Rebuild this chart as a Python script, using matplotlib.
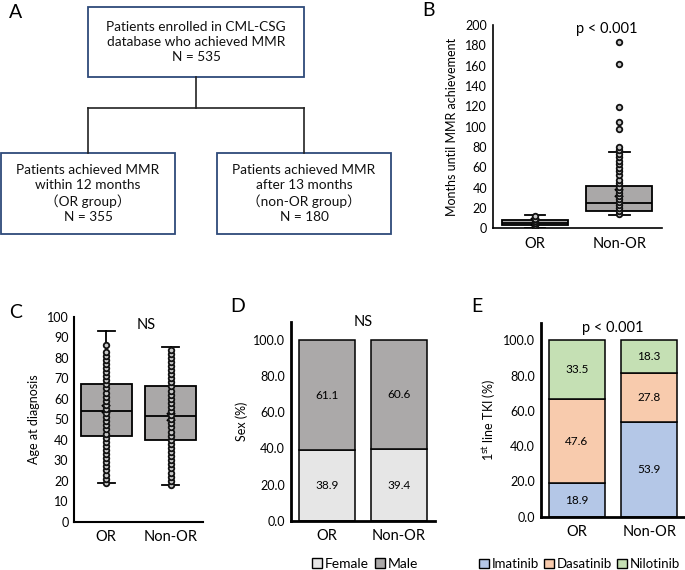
import matplotlib
matplotlib.use("Agg")
import matplotlib.pyplot as plt
from matplotlib.patches import Rectangle, Patch

plt.rcParams['font.family'] = ['Lato', 'Noto Sans CJK JP', 'DejaVu Sans']

# ---- data ----
groups = ['OR', 'Non-OR']

# B: months until MMR achievement (box stats)
b_stats = [
    dict(q1=2.9, med=5.5, q3=8.2, whislo=0.0, whishi=13.0, mean=6.0),
    dict(q1=17.0, med=25.0, q3=41.6, whislo=13.4, whishi=74.8, mean=34.5),
]
b_points_or = [1, 3, 5, 7, 9, 12]
b_points_nonor = [14, 17, 20, 23, 26, 29, 32, 35, 38, 41, 45, 48, 52, 56,
                  59, 63, 66, 70, 73, 77, 80, 98, 105, 119, 162, 183]

# C: age at diagnosis
c_stats = [
    dict(q1=42.0, med=54.0, q3=67.2, whislo=19.0, whishi=93.0, mean=55.0),
    dict(q1=40.0, med=51.6, q3=66.0, whislo=18.0, whishi=85.0, mean=51.0),
]
c_points_or = [19, 21, 23, 25, 27, 29, 31, 33, 35, 37, 39, 41, 43, 45, 47,
               49, 51, 53, 55, 57, 59, 61, 63, 65, 67, 69, 71, 73, 75, 77,
               79, 81, 83, 86]
c_points_nonor = [18, 20, 22, 24, 26, 28, 30, 32, 34, 36, 38, 40, 42, 44, 46,
                  48, 50, 52, 54, 56, 58, 60, 62, 64, 66, 68, 70, 72, 74, 76,
                  78, 80, 82, 84]

# D: sex (%)
female = [38.9, 39.4]
male = [61.1, 60.6]

# E: 1st line TKI (%)
imatinib = [18.9, 53.9]
dasatinib = [47.6, 27.8]
nilotinib = [33.5, 18.3]

BOX_GRAY = '#AAA8A8'

fig = plt.figure(figsize=(6.85, 5.70), dpi=100)

# ---- panel A: flow chart drawn in pixel coords ----
axA = fig.add_axes([0, 0, 1, 1])
axA.set_xlim(0, 685)
axA.set_ylim(570, 0)
axA.axis('off')
axA.set_zorder(-1)

box_edge = '#2E4A7A'
boxes = [
    (88, 7, 216, 70, 'Patients enrolled in CML-CSG\ndatabase who achieved MMR\nN = 535'),
    (1, 153, 174, 81, 'Patients achieved MMR\nwithin 12 months\n（OR group）\nN = 355'),
    (217, 153, 174, 81, 'Patients achieved MMR\nafter 13 months\n（non-OR group）\nN = 180'),
]
for x, y, w, h, txt in boxes:
    axA.add_patch(Rectangle((x, y), w, h, fill=False, ec=box_edge, lw=1.3))
    axA.text(x + w / 2, y + h / 2, txt, ha='center', va='center',
             fontsize=9.8, linespacing=1.3, color='#111111')
axA.plot([196, 196], [77, 108], color='#222222', lw=1.2)
axA.plot([88, 304], [108, 108], color='#222222', lw=1.2)
axA.plot([88, 88], [108, 153], color='#222222', lw=1.2)
axA.plot([304, 304], [108, 153], color='#222222', lw=1.2)

for lab, x, y in [('A', 9, 13), ('B', 422, 10), ('C', 9, 313), ('D', 230, 306), ('E', 471, 306)]:
    axA.text(x, y, lab, fontsize=14, ha='left', va='center')


def style_axes(ax, lw):
    for s in ['top', 'right']:
        ax.spines[s].set_visible(False)
    for s in ['left', 'bottom']:
        ax.spines[s].set_linewidth(lw)
    ax.tick_params(axis='both', length=0, labelsize=9, pad=4)
    ax.tick_params(axis='x', labelsize=10.5, pad=6)


def draw_box(ax, stats, pts, width, capw):
    ax.bxp(stats, positions=[1, 2], widths=width, showmeans=True,
           patch_artist=True, showfliers=False, capwidths=capw,
           boxprops=dict(facecolor=BOX_GRAY, edgecolor='black', lw=1.3),
           medianprops=dict(color='black', lw=1.3),
           whiskerprops=dict(color='black', lw=1.3),
           capprops=dict(color='black', lw=1.3),
           meanprops=dict(marker='x', markeredgecolor='black', markersize=6, mew=1.5))
    for pos, vals in zip([1, 2], pts):
        ax.plot([pos] * len(vals), vals, 'o', mfc='#C8C8C8', mec='#111111',
                ms=4, mew=1.3, zorder=4)
    ax.set_xlim(0.5, 2.5)
    ax.set_xticks([1, 2])
    ax.set_xticklabels(groups)


# ---- panel B ----
axB = fig.add_axes([492.7 / 685, (570 - 228.3) / 570, 169 / 685, 203.3 / 570])
draw_box(axB, b_stats, [b_points_or, b_points_nonor], 0.78, 0.24)
axB.set_ylim(0, 200)
axB.set_yticks(range(0, 201, 20))
axB.set_ylabel('Months until MMR achievement', fontsize=9, labelpad=5)
style_axes(axB, 1.2)
axB.text(1.85, 196, 'p < 0.001', ha='center', va='center', fontsize=10.5)

# ---- panel C ----
axC = fig.add_axes([74 / 685, (570 - 521.7) / 570, 129 / 685, 205 / 570])
draw_box(axC, c_stats, [c_points_or, c_points_nonor], 0.79, 0.27)
axC.set_ylim(0, 100)
axC.set_yticks(range(0, 101, 10))
axC.set_ylabel('Age at diagnosis', fontsize=9, labelpad=5)
style_axes(axC, 1.5)
axC.text(1.62, 96, 'NS', ha='center', va='center', fontsize=10.5)

# ---- panel D ----
axD = fig.add_axes([290.7 / 685, (570 - 520.7) / 570, 144.3 / 685, 199 / 570])
xs = [0, 1]
axD.bar(xs, female, width=0.77, color='#E6E6E6', edgecolor='black', lw=1.1)
axD.bar(xs, male, width=0.77, bottom=female, color='#ABA9A9', edgecolor='black', lw=1.1)
for i in xs:
    axD.text(i, female[i] / 2, f'{female[i]:.1f}', ha='center', va='center', fontsize=8.5)
    axD.text(i, female[i] + male[i] / 2, f'{male[i]:.1f}', ha='center', va='center', fontsize=8.5)
axD.set_xlim(-0.5, 1.5)
axD.set_ylim(0, 110)
axD.set_yticks(range(0, 101, 20))
axD.set_yticklabels([f'{v:.1f}' for v in range(0, 101, 20)])
axD.set_xticks(xs)
axD.set_xticklabels(groups)
axD.set_ylabel('Sex (%)', fontsize=9, labelpad=4)
style_axes(axD, 2.0)
axD.text(0.5, 110, 'NS', ha='center', va='center', fontsize=10.5)
axD.legend(handles=[Patch(fc='#E6E6E6', ec='black', label='Female'),
                    Patch(fc='#ABA9A9', ec='black', label='Male')],
           loc='center', bbox_to_anchor=(365 / 685, 6 / 570),
           bbox_transform=fig.transFigure, ncol=2, frameon=False,
           fontsize=10, handlelength=0.75, handleheight=0.75,
           handletextpad=0.2, columnspacing=0.4, borderpad=0)

# ---- panel E ----
axE = fig.add_axes([540.7 / 685, (570 - 516.7) / 570, 144.6 / 685, 194 / 570])
c_ima, c_das, c_nil = '#B4C7E7', '#F8CBAD', '#C5E0B4'
axE.bar(xs, imatinib, width=0.77, color=c_ima, edgecolor='black', lw=1.1)
axE.bar(xs, dasatinib, width=0.77, bottom=imatinib, color=c_das, edgecolor='black', lw=1.1)
bot2 = [a + b for a, b in zip(imatinib, dasatinib)]
axE.bar(xs, nilotinib, width=0.77, bottom=bot2, color=c_nil, edgecolor='black', lw=1.1)
for i in xs:
    axE.text(i, imatinib[i] / 2, f'{imatinib[i]:.1f}', ha='center', va='center', fontsize=8.5)
    axE.text(i, imatinib[i] + dasatinib[i] / 2, f'{dasatinib[i]:.1f}', ha='center', va='center', fontsize=8.5)
    axE.text(i, bot2[i] + nilotinib[i] / 2, f'{nilotinib[i]:.1f}', ha='center', va='center', fontsize=8.5)
axE.set_xlim(-0.5, 1.5)
axE.set_ylim(0, 110)
axE.set_yticks(range(0, 101, 20))
axE.set_yticklabels([f'{v:.1f}' for v in range(0, 101, 20)])
axE.set_xticks(xs)
axE.set_xticklabels(groups)
axE.set_ylabel('1$^{\\mathrm{st}}$ line TKI (%)', fontsize=9, labelpad=4)
style_axes(axE, 2.0)
axE.text(0.5, 107, 'p < 0.001', ha='center', va='center', fontsize=10.5)
axE.legend(handles=[Patch(fc=c_ima, ec='black', label='Imatinib'),
                    Patch(fc=c_das, ec='black', label='Dasatinib'),
                    Patch(fc=c_nil, ec='black', label='Nilotinib')],
           loc='center left', bbox_to_anchor=(479 / 685, 6 / 570),
           bbox_transform=fig.transFigure, ncol=3, frameon=False,
           fontsize=9.5, handlelength=0.75, handleheight=0.75,
           handletextpad=0.2, columnspacing=0.4, borderpad=0, borderaxespad=0)

fig.savefig('out.png', dpi=100)
